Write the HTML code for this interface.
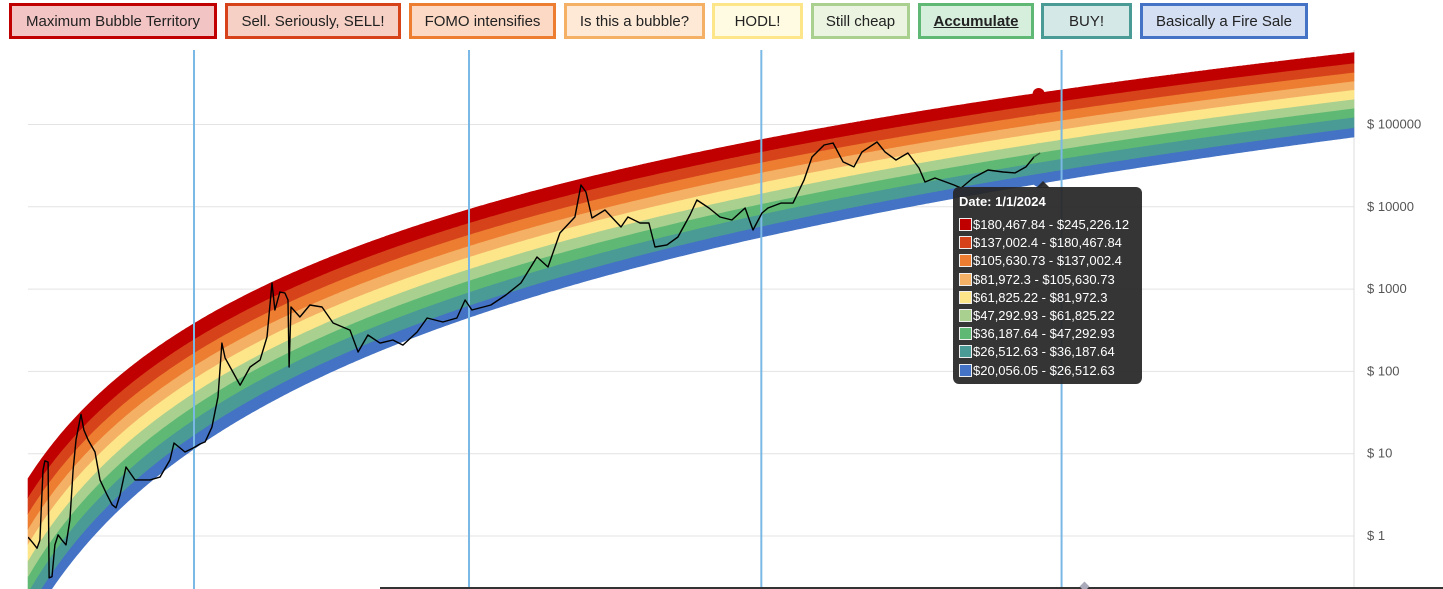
<!DOCTYPE html>
<html><head><meta charset="utf-8"><style>
html,body{margin:0;padding:0;background:#fff;width:1443px;height:589px;overflow:hidden;font-family:"Liberation Sans",Arial,sans-serif;position:relative}
.btn{position:absolute;top:3px;height:36px;box-sizing:border-box;border:3px solid;font-size:15px;line-height:31px;text-align:center;color:#222;cursor:pointer}
#tip{position:absolute;left:953px;top:187px;width:189px;height:197px;background:rgba(38,38,38,0.93);border-radius:6px;color:#fff;font-size:13px;box-sizing:border-box;padding:7px 0 0 6px}
#tip .t{font-weight:bold;margin-bottom:7px}
#tip .r{height:18.2px;line-height:18px;white-space:nowrap}
#tip .sq{display:inline-block;width:11px;height:11px;border:1px solid #eee;vertical-align:-2px;margin-right:1px}
#arrow{position:absolute;left:1036px;top:181px;width:0;height:0;border-left:7px solid transparent;border-right:7px solid transparent;border-bottom:7px solid rgba(38,38,38,0.93)}
</style></head><body>
<div>
<div class="btn" style="left:9px;width:208px;border-color:#c00000;background:#f2c4c4">Maximum Bubble Territory</div>
<div class="btn" style="left:225px;width:176px;border-color:#d6431b;background:#f6d0c4">Sell. Seriously, SELL!</div>
<div class="btn" style="left:409px;width:147px;border-color:#ed7d31;background:#fbd9c4">FOMO intensifies</div>
<div class="btn" style="left:564px;width:141px;border-color:#f4b166;background:#fde9d6">Is this a bubble?</div>
<div class="btn" style="left:712px;width:91px;border-color:#fde58a;background:#fffbe2">HODL!</div>
<div class="btn" style="left:811px;width:99px;border-color:#a9d08e;background:#eaf4e0">Still cheap</div>
<div class="btn" style="left:918px;width:116px;border-color:#5fb974;background:#d6eedc;font-weight:bold;text-decoration:underline">Accumulate</div>
<div class="btn" style="left:1041px;width:91px;border-color:#4a9a96;background:#d5e8e8">BUY!</div>
<div class="btn" style="left:1140px;width:168px;border-color:#4472c4;background:#d4dff3">Basically a Fire Sale</div>
</div>
<svg id="chart" width="1443" height="589" style="position:absolute;left:0;top:0;overflow:hidden" xmlns="http://www.w3.org/2000/svg"></svg>
<div id="arrow"></div>
<div id="tip">
<div class="t">Date: 1/1/2024</div>
<div class="r"><span class="sq" style="background:#c00000"></span>$180,467.84 - $245,226.12</div>
<div class="r"><span class="sq" style="background:#d6431b"></span>$137,002.4 - $180,467.84</div>
<div class="r"><span class="sq" style="background:#ed7d31"></span>$105,630.73 - $137,002.4</div>
<div class="r"><span class="sq" style="background:#f4b166"></span>$81,972.3 - $105,630.73</div>
<div class="r"><span class="sq" style="background:#fde58a"></span>$61,825.22 - $81,972.3</div>
<div class="r"><span class="sq" style="background:#a9d08e"></span>$47,292.93 - $61,825.22</div>
<div class="r"><span class="sq" style="background:#5fb974"></span>$36,187.64 - $47,292.93</div>
<div class="r"><span class="sq" style="background:#4a9a96"></span>$26,512.63 - $36,187.64</div>
<div class="r"><span class="sq" style="background:#4472c4"></span>$20,056.05 - $26,512.63</div>
</div>
<script>
// days since genesis (2009-01-03)
const priceDays = [629,653,672,686,701,710,725,730,744,758,773,792,811,830,845,859,883,897,917,950,974,1008,1032,1051,1070,1099,1142,1214,1262,1310,1329,1382,1420,1454,1478,1511,1540,1559,1574,1598,1646,1694,1742,1775,1799,1813,1837,1861,1876,1881,1890,1933,1981,2039,2092,2173,2212,2259,2317,2379,2427,2495,2543,2619,2686,2725,2758,2849,2921,2993,3070,3123,3180,3252,3281,3305,3334,3396,3473,3506,3564,3607,3636,3693,3746,3804,3837,3895,3948,4005,4068,4106,4149,4178,4240,4298,4351,4389,4447,4490,4538,4590,4629,4701,4739,4792,4849,4902,4931,4979,5070,5104,5161,5233,5305,5363,5415,5454,5483];
const priceValues = [0.97,0.82,0.71,0.89,6.3,8.2,7.9,0.31,0.32,0.78,1.03,0.89,0.78,1.56,6.3,14.7,30,19.4,14.7,10.5,4.8,3.15,2.4,2.2,3.15,6.9,4.8,4.8,5.2,8.4,13.5,10.5,11.7,13.1,13.9,21,49,221,146,113,68,113,138,262,1186,557,922,897,738,113,606,458,641,606,387,318,172,277,221,241,209,301,445,398,445,738,557,641,848,1186,2455,1855,4810,7520,18400,15100,7310,9140,5690,7520,6350,6350,3250,3440,4300,7940,12100,9680,7520,6910,9680,5220,8410,9680,11100,11100,21200,40300,56400,59600,35100,30500,46400,61300,46400,37000,45100,29600,20000,22400,18400,16900,22400,28000,26500,25800,30500,40300,45100];
const halvingDays = [1425,2744,4146,5586];
const tickValues = [1,10,100,1000,10000,100000];
const tickLabels = ["$ 1","$ 10","$ 100","$ 1000","$ 10000","$ 100000"];
const bandColors = ["#4472c4","#4a9a96","#5fb974","#a9d08e","#fde58a","#f4b166","#ed7d31","#d6431b","#c00000"];
const bandNames = ["fire-sale","buy","accumulate","still-cheap","hodl","is-this-a-bubble","fomo","sell","max-bubble"];
const bandFractions = [0,0.111,0.235,0.342,0.449,0.561,0.663,0.767,0.876,1];
const tooltipDay = 5476;
const topCurve = {a:1.975,b:-11.572};
const bottomCurve = {a:2.273,b:-15.23};
const dayOffset = 130;

const X0=28,X1=1354;
const xScale = d => 194 + (d-1425)*0.2085;
const dayAt = x => 1425 + (x-194)/0.2085;
const yScale = v => 536 - 82.3*Math.log10(v);
const yLog = L => 536 - 82.3*L;
const bandLog = (d,f) => {
  const l = Math.log(d-dayOffset);
  const lo = bottomCurve.a*l+bottomCurve.b, hi = topCurve.a*l+topCurve.b;
  return lo + (hi-lo)*f;
};
const svg = document.getElementById('chart');
const NS='http://www.w3.org/2000/svg';
function mk(tag, attrs){const e=document.createElementNS(NS,tag);for(const k in attrs)e.setAttribute(k,attrs[k]);svg.appendChild(e);return e;}

tickValues.forEach((v,i)=>{
  const y=yScale(v);
  const g=mk('line',{x1:X0,x2:X1,y1:y,y2:y,stroke:'#e3e3e3','stroke-width':1});
  
  
  const t=mk('text',{x:1367,y:y+4,'font-size':13,fill:'#555','font-family':'Liberation Sans, sans-serif'});
  t.textContent=tickLabels[i];
  
  
});
const ax=mk('line',{x1:X1,x2:X1,y1:50,y2:589,stroke:'#ddd','stroke-width':1});



const xs=[];for(let x=X0;x<=X1;x+=2)xs.push(x);
for(let i=0;i<bandColors.length;i++){
  const lower=xs.map(x=>[x,Math.min(600,yLog(bandLog(dayAt(x),bandFractions[i])))]);
  const upper=xs.map(x=>[x,Math.min(600,yLog(bandLog(dayAt(x),bandFractions[i+1])))]).reverse();
  const pts=lower.concat(upper).map(p=>p[0]+','+p[1].toFixed(1)).join(' ');
  const p=mk('polygon',{points:pts,fill:bandColors[i],stroke:bandColors[i],'stroke-width':0.6});
  
  
}
halvingDays.forEach(d=>{
  const x=xScale(d);
  const l=mk('line',{x1:x,x2:x,y1:50,y2:589,stroke:'#7ab8e6','stroke-width':2});
  
  
});
const bl=mk('line',{x1:380,x2:1443,y1:588,y2:588,stroke:'#333','stroke-width':2});


const clip=mk('clipPath',{id:'cp'});
const cr=document.createElementNS(NS,'rect');cr.setAttribute('x',X0);cr.setAttribute('y',0);cr.setAttribute('width',X1-X0);cr.setAttribute('height',589);clip.appendChild(cr);
const d=priceDays.map((dd,i)=>(i?'L':'M')+xScale(dd).toFixed(1)+','+yScale(priceValues[i]).toFixed(1)).join(' ');
const pl=mk('path',{d:d,fill:'none',stroke:'#000','stroke-width':1.4,'stroke-linejoin':'round','clip-path':'url(#cp)'});


const tx=xScale(tooltipDay);
for(let i=0;i<bandColors.length;i++){
  const f=(bandFractions[i]+bandFractions[i+1])/2;
  const end=(i===0||i===8);
  const c=mk('circle',{cx:tx,cy:yLog(bandLog(tooltipDay,i===8?0.99:(i===0?0.03:f))),r:end?6:5,fill:bandColors[i],'fill-opacity':end?1:0.5});
  
  
}
const dm=mk('rect',{x:1081,y:583,width:7,height:7,fill:'#aab',transform:'rotate(45 1084.5 586.5)'});


</script>
</body></html>
